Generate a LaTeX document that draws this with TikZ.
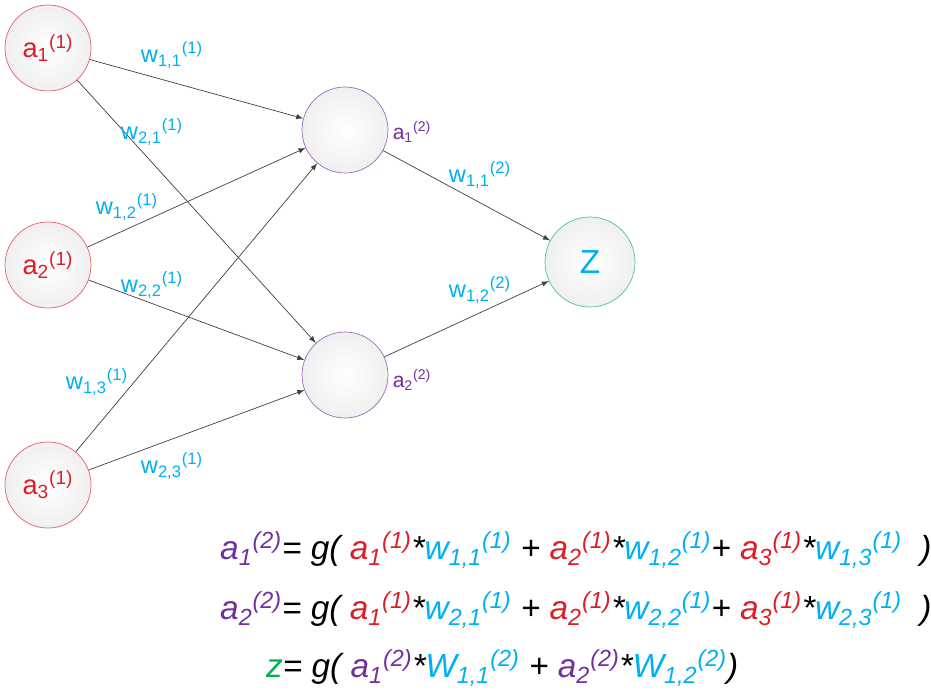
\documentclass[tikz,border=0pt]{standalone}
\usepackage{fontspec}
\setmainfont{Liberation Sans}
\definecolor{wblue}{RGB}{0,176,240}
\definecolor{apurple}{RGB}{112,48,160}
\definecolor{ared}{RGB}{220,30,40}
\definecolor{zgreen}{RGB}{0,176,80}
\newcommand{\sub}[3]{#1\textsubscript{#2}\textsuperscript{#3}}
\begin{document}
\begin{tikzpicture}[
  x=0.02cm, y=-0.02cm,
  neuron/.style={circle, minimum size=1.72cm, inner sep=0pt, shade, inner color=white, outer color=gray!12, font=\fontsize{15.5}{18}\selectfont},
  inp/.style={neuron, draw=ared!70, text=ared},
  hid/.style={neuron, draw=apurple!70},
  outp/.style={neuron, draw=zgreen!70, text=wblue, minimum size=1.8cm, font=\fontsize{19}{21}\selectfont},
  edge/.style={->, >=latex, draw=black!75, thin},
  wlab/.style={text=wblue, font=\fontsize{13.5}{15}\selectfont},
  hlab/.style={text=apurple, font=\fontsize{12}{14}\selectfont},
  formula/.style={anchor=west, font=\fontsize{19}{22}\itshape\selectfont}
  ]
  \useasboundingbox (0,0) rectangle (931,697);

  % Nodes
  \node (a1) [inp] at (48,48) {\sub{a}{1}{(1)}};
  \node (a2) [inp] at (48,265) {\sub{a}{2}{(1)}};
  \node (a3) [inp] at (48,485) {\sub{a}{3}{(1)}};
  \node (h1) [hid] at (345,130) {};
  \node (h2) [hid] at (345,375) {};
  \node (z) [outp] at (590,262) {Z};

  % Connections
  \draw[edge] (a1) -- (h1);
  \draw[edge] (a1) -- (h2);
  \draw[edge] (a2) -- (h1);
  \draw[edge] (a2) -- (h2);
  \draw[edge] (a3) -- (h1);
  \draw[edge] (a3) -- (h2);
  \draw[edge] (h1) -- (z);
  \draw[edge] (h2) -- (z);

  % Labels
  \node[wlab] (w111) at (172,55) {\sub{w}{1,1}{(1)}};
  \node[wlab] (w211) at (152,132) {\sub{w}{2,1}{(1)}};
  \node[wlab] (w121) at (127,207) {\sub{w}{1,2}{(1)}};
  \node[wlab] (w221) at (152,285) {\sub{w}{2,2}{(1)}};
  \node[wlab] (w131) at (97,382) {\sub{w}{1,3}{(1)}};
  \node[wlab] (w231) at (172,466) {\sub{w}{2,3}{(1)}};
  \node[wlab] (w112) at (480,175) {\sub{w}{1,1}{(2)}};
  \node[wlab] (w122) at (480,290) {\sub{w}{1,2}{(2)}};
  \node[hlab] (h1lab) at (412,132) {\sub{a}{1}{(2)}};
  \node[hlab] (h2lab) at (412,380) {\sub{a}{2}{(2)}};

  % Formulas
  \node[formula] (f1) at (214,550) {\textcolor{apurple}{\sub{a}{1}{(2)}}= g( \textcolor{ared}{\sub{a}{1}{(1)}}*\textcolor{wblue}{\sub{w}{1,1}{(1)}} + \textcolor{ared}{\sub{a}{2}{(1)}}*\textcolor{wblue}{\sub{w}{1,2}{(1)}}+ \textcolor{ared}{\sub{a}{3}{(1)}}*\textcolor{wblue}{\sub{w}{1,3}{(1)}} \ )};
  \node[formula] (f2) at (214,610) {\textcolor{apurple}{\sub{a}{2}{(2)}}= g( \textcolor{ared}{\sub{a}{1}{(1)}}*\textcolor{wblue}{\sub{w}{2,1}{(1)}} + \textcolor{ared}{\sub{a}{2}{(1)}}*\textcolor{wblue}{\sub{w}{2,2}{(1)}}+ \textcolor{ared}{\sub{a}{3}{(1)}}*\textcolor{wblue}{\sub{w}{2,3}{(1)}} \ )};
  \node[formula] (f3) at (260,668) {\textcolor{zgreen}{z}= g( \textcolor{apurple}{\sub{a}{1}{(2)}}*\textcolor{wblue}{\sub{W}{1,1}{(2)}} + \textcolor{apurple}{\sub{a}{2}{(2)}}*\textcolor{wblue}{\sub{W}{1,2}{(2)}})};
\end{tikzpicture}
\end{document}
